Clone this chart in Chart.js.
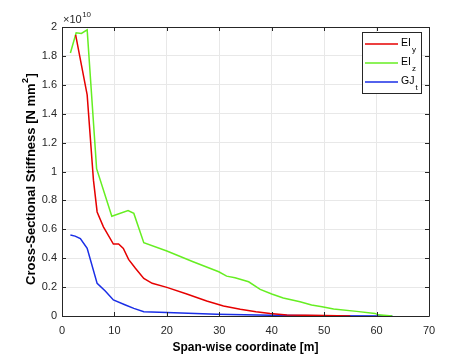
<!DOCTYPE html>
<html>
<head>
<meta charset="utf-8">
<script src="https://cdn.jsdelivr.net/npm/chart.js@4/dist/chart.umd.min.js"></script>
<style>
html,body{margin:0;padding:0;background:#fff;}
#wrap{width:474px;height:355px;position:relative;}
</style>
</head>
<body>
<div id="wrap"><canvas id="c" width="474" height="355"></canvas></div>
<script>
// Values in units of 1e10 N mm^2
const eiyX = [2.6, 4.8, 6.0, 6.7, 7.9, 9.8, 10.8, 11.7, 12.7, 14.0, 15.6, 17.2, 20, 23.8, 27.6, 30.8, 34, 37, 39.7, 42.9, 50, 55];
const eiyY = [1.945, 1.53, 0.94, 0.72, 0.617, 0.498, 0.498, 0.468, 0.392, 0.33, 0.26, 0.226, 0.198, 0.152, 0.104, 0.069, 0.046, 0.03, 0.018, 0.007, 0.003, 0];
const eizX = [1.6, 2.7, 3.7, 4.8, 6.6, 9.5, 12.6, 13.7, 15.6, 20, 25, 29.9, 31.4, 33, 35.6, 37.8, 40, 42.2, 45.4, 47.6, 49.6, 51.8, 56.2, 59.7, 60.3, 63];
const eizY = [1.82, 1.96, 1.955, 1.98, 1.02, 0.69, 0.73, 0.71, 0.507, 0.45, 0.375, 0.306, 0.276, 0.265, 0.237, 0.184, 0.152, 0.124, 0.099, 0.076, 0.064, 0.048, 0.032, 0.018, 0.008, 0];
const gjtX = [1.6, 2.5, 3.5, 4.8, 6.7, 8.25, 9.8, 12.1, 13.7, 15.6, 20, 29.5, 40, 50, 63];
const gjtY = [0.56, 0.553, 0.535, 0.468, 0.226, 0.173, 0.111, 0.076, 0.053, 0.03, 0.024, 0.012, 0.005, 0.002, 0];
const seriesNames = ['EI', 'EI', 'GJ'];
const seriesSubs = ['y', 'z', 't'];
const xTicks = [0, 10, 20, 30, 40, 50, 60, 70];
const yTicks = [0, 0.2, 0.4, 0.6, 0.8, 1, 1.2, 1.4, 1.6, 1.8, 2];
const xTitle = 'Span-wise coordinate [m]';
const yTitleMain = 'Cross-Sectional Stiffness [N mm';
const yTitleSup = '2';
const yTitleEnd = ']';
const expBase = '×10';
const expPow = '10';

const pts = (xs, ys) => xs.map((x, i) => ({x: x, y: ys[i]}));
const colors = ['#e60000', '#66ee22', '#1a2ee6'];
const FONT = '"Liberation Sans", Arial, Helvetica, sans-serif';
const TXT = '#262626';

const boxPlugin = {
  id: 'boxPlugin',
  afterDatasetsDraw(chart) {
    const {ctx, chartArea: a, scales} = chart;
    ctx.save();
    ctx.strokeStyle = TXT;
    ctx.lineWidth = 1;
    ctx.beginPath();
    ctx.rect(Math.round(a.left) + 0.5, Math.round(a.top) + 0.5, Math.round(a.right - a.left), Math.round(a.bottom - a.top));
    ctx.stroke();
    const tl = 4;
    ctx.beginPath();
    xTicks.forEach(v => {
      const px = Math.round(scales.x.getPixelForValue(v)) + 0.5;
      ctx.moveTo(px, a.bottom); ctx.lineTo(px, a.bottom - tl);
      ctx.moveTo(px, a.top); ctx.lineTo(px, a.top + tl);
    });
    yTicks.forEach(v => {
      const py = Math.round(scales.y.getPixelForValue(v)) + 0.5;
      ctx.moveTo(a.left, py); ctx.lineTo(a.left + tl, py);
      ctx.moveTo(a.right, py); ctx.lineTo(a.right - tl, py);
    });
    ctx.stroke();

    // exponent label
    ctx.fillStyle = TXT;
    ctx.textBaseline = 'alphabetic';
    ctx.textAlign = 'left';
    ctx.font = '11px ' + FONT;
    ctx.fillText(expBase.slice(0,1), a.left + 1, a.top - 4);
    const wx = ctx.measureText(expBase.slice(0,1)).width;
    ctx.fillText(expBase.slice(1), a.left + 1 + wx, a.top - 4);
    const w = ctx.measureText(expBase.slice(1)).width;
    ctx.font = '8px ' + FONT;
    ctx.fillText(expPow, a.left + 1 + wx + w + 0.5, a.top - 10);

    // y-axis title with superscript
    ctx.save();
    ctx.translate(31.5, 179);
    ctx.rotate(-Math.PI / 2);
    ctx.fillStyle = '#000';
    ctx.textBaseline = 'middle';
    const fMain = 'bold 13px ' + FONT, fSup = 'bold 9px ' + FONT;
    ctx.font = fMain;
    const w1 = ctx.measureText(yTitleMain).width;
    const w3 = ctx.measureText(yTitleEnd).width;
    ctx.font = fSup;
    const w2 = ctx.measureText(yTitleSup).width;
    let sx = -(w1 + w2 + w3 + 1) / 2;
    ctx.font = fMain;
    ctx.fillText(yTitleMain, sx, 0);
    ctx.font = fSup;
    ctx.fillText(yTitleSup, sx + w1 + 0.5, -6);
    ctx.font = fMain;
    ctx.fillText(yTitleEnd, sx + w1 + w2 + 1, 0);
    ctx.restore();

    // legend
    const lx = 362, ly = 32, lw = 59, lh = 61;
    ctx.fillStyle = '#fff';
    ctx.fillRect(lx, ly, lw, lh);
    ctx.strokeStyle = TXT;
    ctx.lineWidth = 1;
    ctx.strokeRect(lx + 0.5, ly + 0.5, lw, lh);
    const rows = [44, 63, 82];
    chart.data.datasets.forEach((ds, i) => {
      ctx.strokeStyle = ds.borderColor;
      ctx.lineWidth = 1.5;
      ctx.beginPath();
      ctx.moveTo(365, rows[i]); ctx.lineTo(398, rows[i]);
      ctx.stroke();
      ctx.fillStyle = '#000';
      ctx.font = '10.5px ' + FONT;
      ctx.textBaseline = 'middle';
      ctx.fillText(seriesNames[i], 401, rows[i] - 1);
      const nw = ctx.measureText(seriesNames[i]).width;
      ctx.font = '8px ' + FONT;
      ctx.fillText(seriesSubs[i], 401 + nw + 1, rows[i] + 6);
    });
    ctx.restore();
  }
};

new Chart(document.getElementById('c'), {
  type: 'line',
  data: {
    datasets: [
      {label: 'EIy', data: pts(eiyX, eiyY), borderColor: colors[0]},
      {label: 'EIz', data: pts(eizX, eizY), borderColor: colors[1]},
      {label: 'GJt', data: pts(gjtX, gjtY), borderColor: colors[2]}
    ].map(d => Object.assign(d, {borderWidth: 1.5, pointRadius: 0, tension: 0, fill: false}))
  },
  options: {
    responsive: false,
    animation: false,
    layout: {padding: {top: 27, right: 45, left: 0, bottom: 0}},
    plugins: {legend: {display: false}, tooltip: {enabled: false}},
    scales: {
      x: {
        type: 'linear', min: 0, max: 70,
        afterBuildTicks: s => { s.ticks = xTicks.map(v => ({value: v})); },
        afterFit: s => { s.height = 39; },
        grid: {color: '#e8e8e8', drawTicks: false, lineWidth: 1},
        border: {display: false},
        ticks: {color: TXT, font: {size: 11, family: FONT}, padding: 8, maxRotation: 0},
        title: {display: true, text: xTitle, color: '#000', font: {size: 12, weight: 'bold', family: FONT}, padding: {top: 1, bottom: 0}}
      },
      y: {
        type: 'linear', min: 0, max: 2,
        afterBuildTicks: s => { s.ticks = yTicks.map(v => ({value: v})); },
        afterFit: s => { s.width = 62; },
        grid: {color: '#e8e8e8', drawTicks: false, lineWidth: 1},
        border: {display: false},
        ticks: {color: TXT, font: {size: 11, family: FONT}, padding: 5, callback: v => String(Math.round(v * 10) / 10)},
        title: {display: false}
      }
    }
  },
  plugins: [boxPlugin]
});
</script>
</body>
</html>
